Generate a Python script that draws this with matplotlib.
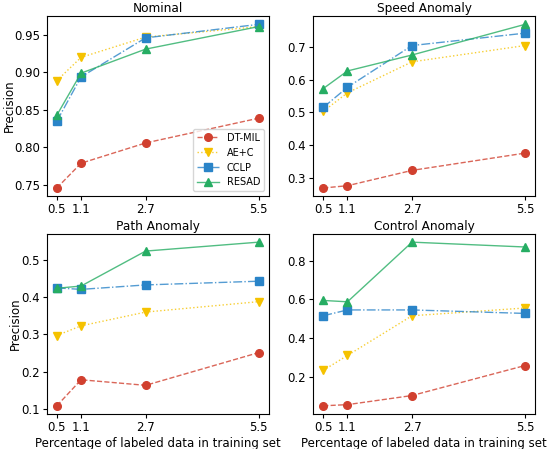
import matplotlib
matplotlib.use("Agg")
import matplotlib.pyplot as plt
from matplotlib.colors import to_rgba

# percentage of labeled data
pct = [0.5, 1.1, 2.7, 5.5]
methods = ["DT-MIL", "AE+C", "CCLP", "RESAD"]

nominal = {
    "DT-MIL": [0.746, 0.779, 0.806, 0.839],
    "AE+C": [0.889, 0.920, 0.947, 0.961],
    "CCLP": [0.835, 0.894, 0.946, 0.964],
    "RESAD": [0.843, 0.899, 0.931, 0.961],
}
speed = {
    "DT-MIL": [0.268, 0.275, 0.322, 0.375],
    "AE+C": [0.503, 0.560, 0.655, 0.705],
    "CCLP": [0.515, 0.577, 0.705, 0.743],
    "RESAD": [0.573, 0.627, 0.676, 0.770],
}
path = {
    "DT-MIL": [0.108, 0.178, 0.163, 0.251],
    "AE+C": [0.297, 0.323, 0.360, 0.388],
    "CCLP": [0.425, 0.421, 0.433, 0.443],
    "RESAD": [0.424, 0.430, 0.524, 0.548],
}
control = {
    "DT-MIL": [0.050, 0.056, 0.103, 0.258],
    "AE+C": [0.233, 0.310, 0.515, 0.555],
    "CCLP": [0.515, 0.545, 0.545, 0.527],
    "RESAD": [0.594, 0.587, 0.895, 0.870],
}

colors = {"DT-MIL": "#d1402f", "AE+C": "#f5c200", "CCLP": "#2a84c8", "RESAD": "#26ad63"}
styles = {"DT-MIL": "--", "AE+C": ":", "CCLP": "-.", "RESAD": "-"}
markers = {"DT-MIL": "o", "AE+C": "v", "CCLP": "s", "RESAD": "^"}

panels = [("Nominal", nominal), ("Speed Anomaly", speed),
          ("Path Anomaly", path), ("Control Anomaly", control)]

plt.rcParams["font.size"] = 8.5
fig, axes = plt.subplots(2, 2, figsize=(5.5, 4.49), dpi=100)
axes = axes.flatten()

for i, (title, data) in enumerate(panels):
    ax = axes[i]
    for m in methods:
        ax.plot(pct, data[m], linestyle=styles[m], marker=markers[m],
                color=to_rgba(colors[m], 0.8), markerfacecolor=colors[m],
                markeredgecolor=colors[m], markersize=5.5, linewidth=1.0, label=m)
    ax.set_title(title, fontsize=8.7, pad=3)
    ax.set_xticks(pct)
    ax.set_xticklabels(["0.5", "1.1", "2.7", "5.5"])
    ax.tick_params(length=3, pad=2)
    if i % 2 == 0:
        ax.set_ylabel("Precision")
    if i >= 2:
        ax.set_xlabel("Percentage of labeled data in training set", labelpad=2)

axes[1].set_yticks([0.3, 0.4, 0.5, 0.6, 0.7])
axes[2].set_yticks([0.1, 0.2, 0.3, 0.4, 0.5])
axes[3].set_yticks([0.2, 0.4, 0.6, 0.8])

axes[0].yaxis.set_label_coords(-0.14, 0.5)
axes[2].yaxis.set_label_coords(-0.113, 0.5)

axes[0].legend(loc="lower right", fontsize=7, handlelength=2.2)

plt.subplots_adjust(left=0.085, right=0.973, top=0.964, bottom=0.078,
                    wspace=0.2, hspace=0.21)
plt.savefig("out.png", dpi=100)
